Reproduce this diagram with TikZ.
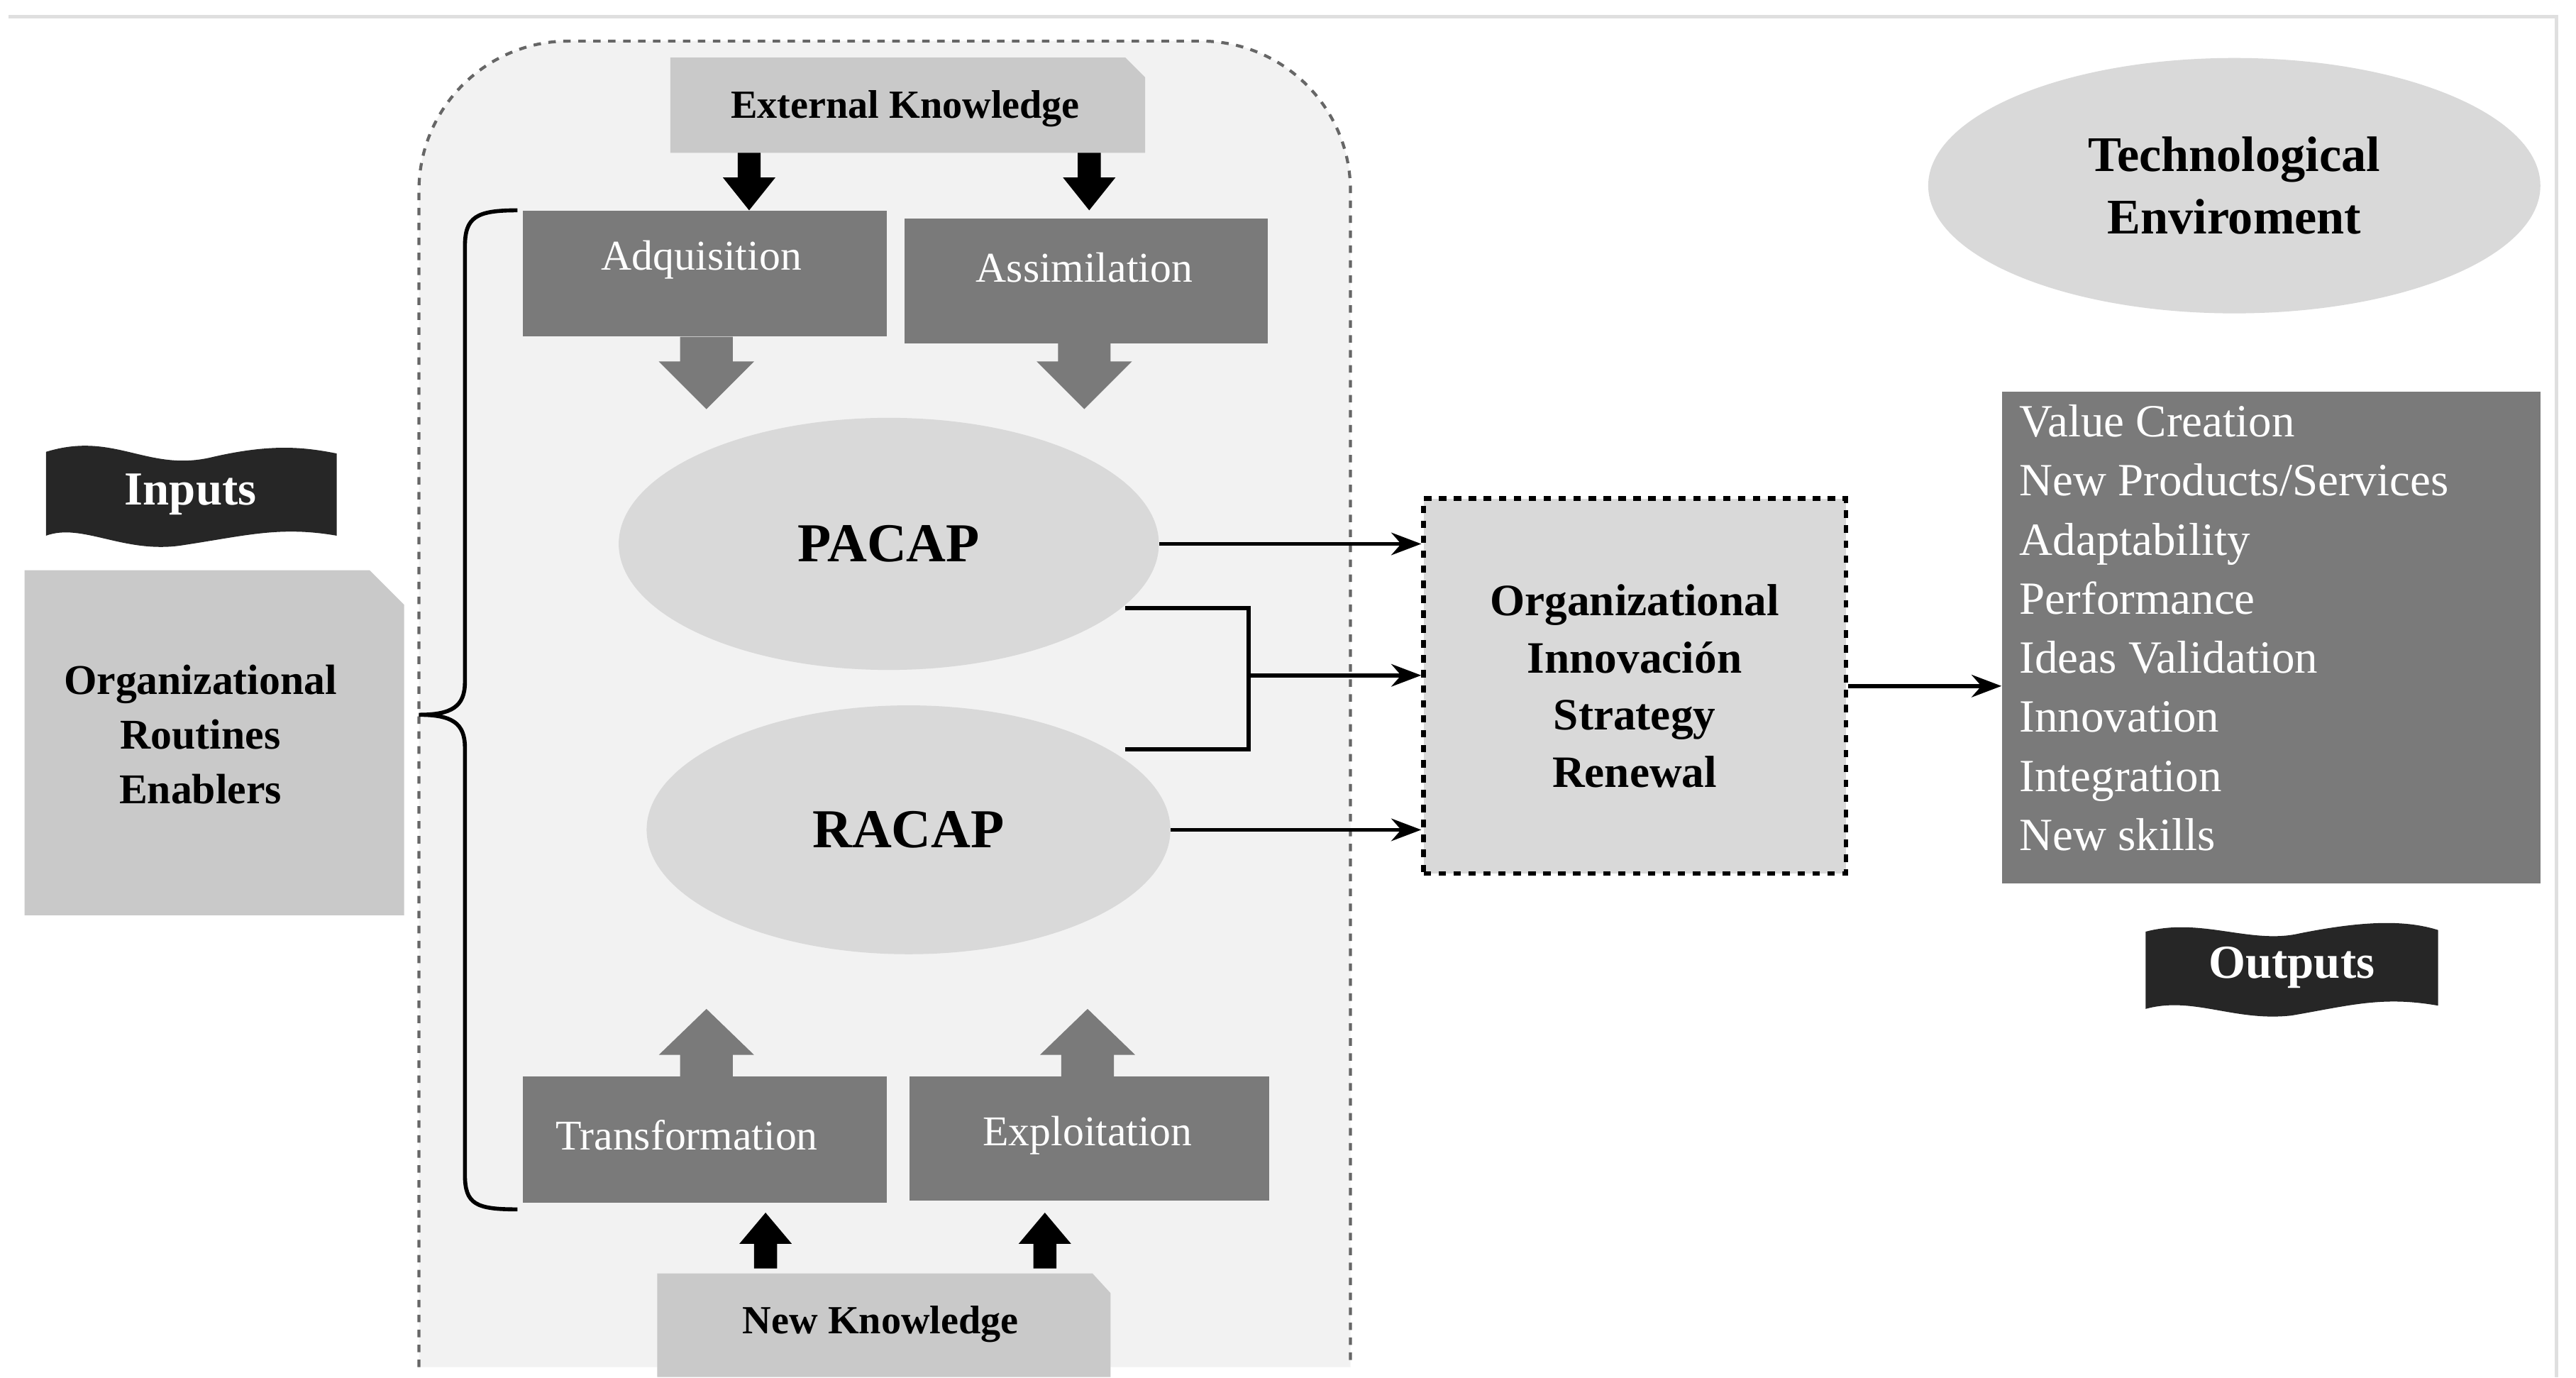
\documentclass[tikz,border=0pt]{standalone}
\usepackage{fontspec}
\setmainfont{Liberation Serif}
\usetikzlibrary{arrows.meta,calc,shapes.geometric}
\definecolor{dk}{HTML}{7A7A7A}
\definecolor{lt}{HTML}{C9C9C9}
\definecolor{el}{HTML}{D9D9D9}
\definecolor{bg}{HTML}{F2F2F2}
\def\u{0.6566pt}
\tikzset{
 dark/.style={fill=dk,draw=none,text=white,font=\fontsize{17}{20}\selectfont,inner sep=0pt},
 ell/.style={ellipse,fill=el,draw=none,inner sep=0pt,font=\bfseries\fontsize{22}{26}\selectfont},
 lbl/.style={font=\bfseries\fontsize{17}{22}\selectfont,align=center},
 btxt/.style={text=white,font=\fontsize{17}{20}\selectfont},
 con/.style={line width=1.6pt,-{Stealth[length=12pt,width=9pt]}},
}
\begin{document}
\begin{tikzpicture}[x=0.02316cm,y=-0.02316cm]
\useasboundingbox (0,0) rectangle (1568,838.5);
\fill[white] (0,0) rectangle (1568,838.5);
\draw[lt!60,line width=1.5pt] (5,10) -- (1556,10) -- (1556,838);
% main dashed area
\draw[dashed,line width=1.2pt,draw=gray!80!black,fill=bg,rounded corners=60pt] (255,832) -- (255,25) -- (822,25) -- (822,832);
% External / New knowledge
\fill[lt] (408,35) -- (685,35) -- (697,47) -- (697,93) -- (408,93) -- cycle;
\node[lbl,font=\bfseries\fontsize{16}{20}\selectfont] (ek) at (551,66) {External Knowledge};
\fill[lt] (400,775) -- (665,775) -- (676,787) -- (676,838) -- (400,838) -- cycle;
\node[lbl,font=\bfseries\fontsize{16}{20}\selectfont] (nk) at (536,806) {New Knowledge};
% boxes
\node[dark,minimum width=222*\u,minimum height=77*\u] (adq) at (429,166.5) {};
\node[btxt] at (427,158) {Adquisition};
\node[dark,minimum width=222*\u,minimum height=76*\u] (asi) at (661,171) {};
\node[btxt] at (660,163) {Assimilation};
\node[dark,minimum width=222*\u,minimum height=77*\u] (tra) at (429,693.5) {};
\node[btxt] at (418,691) {Transformation};
\node[dark,minimum width=220*\u,minimum height=76*\u] (exp) at (663,693) {};
\node[btxt] at (662,691) {Exploitation};
% black arrows
\foreach \x in {456,663}{\fill[black] (\x-7,93) -- (\x+7,93) -- (\x+7,108) -- (\x+16,108) -- (\x,128) -- (\x-16,108) -- (\x-7,108) -- cycle;}
\foreach \x in {466,636}{\fill[black] (\x-7,772) -- (\x+7,772) -- (\x+7,757) -- (\x+16,757) -- (\x,738) -- (\x-16,757) -- (\x-7,757) -- cycle;}
% gray arrows
\foreach \x in {430,660}{\fill[dk] (\x-16,205) -- (\x+16,205) -- (\x+16,220) -- (\x+29,220) -- (\x,249) -- (\x-29,220) -- (\x-16,220) -- cycle;}
\foreach \x in {430,662}{\fill[dk] (\x-16,655) -- (\x+16,655) -- (\x+16,642) -- (\x+29,642) -- (\x,614) -- (\x-29,642) -- (\x-16,642) -- cycle;}
% ellipses
\node[ell,minimum width=330*\u,minimum height=154*\u] (pacap) at (541,331) {PACAP};
\node[ell,minimum width=320*\u,minimum height=152*\u] (racap) at (553,505) {RACAP};
\node[ell,minimum width=374*\u,minimum height=156*\u,align=center,font=\bfseries\fontsize{20}{25}\selectfont] (tech) at (1360,113) {Technological\\Enviroment};
% brace
\draw[line width=1.6pt] (315,128) .. controls (290,128) and (283,132) .. (283,150) -- (283,415) .. controls (283,430) and (275,435) .. (255,435) .. controls (275,435) and (283,440) .. (283,455) -- (283,715) .. controls (283,733) and (290,736) .. (315,736);
% inputs
\fill[lt] (15,347) -- (225,347) -- (246,368) -- (246,557) -- (15,557) -- cycle;
\node[lbl] (inp) at (122,447) {Organizational\\Routines\\Enablers};
\fill[black!85] (28,275) .. controls (70,262) and (90,288) .. (130,278) .. controls (165,270) and (185,272) .. (205,276) -- (205,326) .. controls (170,320) and (150,326) .. (110,332) .. controls (75,337) and (50,318) .. (28,326) -- cycle;
\node[text=white,font=\bfseries\fontsize{19}{22}\selectfont] (inl) at (116,301) {Inputs};
% center box
\node[draw,dashed,line width=1.8pt,fill=el,minimum width=258*\u,minimum height=229*\u,lbl,font=\bfseries\fontsize{18}{23}\selectfont] (org) at (995,417.5) {Organizational\\Innovación\\Strategy\\Renewal};
% outputs
\node[dark,minimum width=329*\u,minimum height=300*\u] (out) at (1382.5,388) {};
\node[anchor=north west,text=white,align=left,font=\fontsize{18.5}{23.7}\selectfont,inner sep=0pt] at (1229,246) {Value Creation\\New Products/Services\\Adaptability\\Performance\\Ideas Validation\\Innovation\\Integration\\New skills};
\fill[black!85] (1306,567) .. controls (1340,558) and (1370,575) .. (1400,568) .. controls (1440,560) and (1465,560) .. (1484,566) -- (1484,612) .. controls (1450,606) and (1430,612) .. (1395,618) .. controls (1360,622) and (1335,606) .. (1306,614) -- cycle;
\node[text=white,font=\bfseries\fontsize{19}{22}\selectfont] (outl) at (1395,589) {Outputs};
% connectors
\draw[con] (pacap.east) -- (pacap.east -| org.west);
\draw[con] (racap.east) -- (racap.east -| org.west);
\coordinate (j) at (760,411);
\draw[line width=1.6pt] (685,370) -| (j) |- (685,456);
\draw[con] (j) -- (j -| org.west);
\draw[con] (org.east) -- (out.west |- org.east);
\end{tikzpicture}
\end{document}
